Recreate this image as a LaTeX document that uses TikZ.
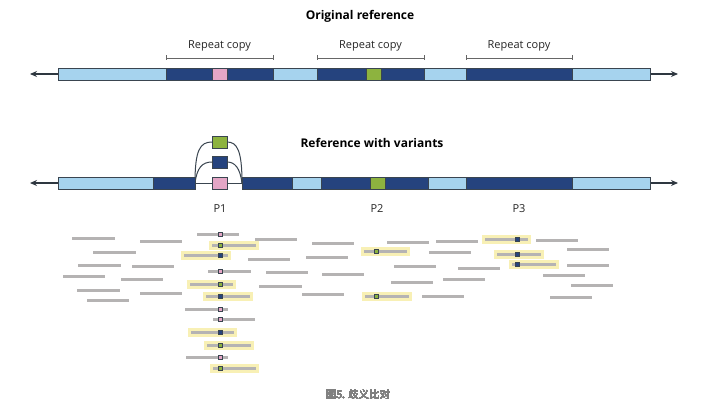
\documentclass[tikz,border=0pt]{standalone}
\usepackage{fontspec}
\setmainfont{Open Sans}
\newfontfamily\cjk{Noto Sans CJK SC}
\usetikzlibrary{arrows.meta}
\definecolor{lb}{HTML}{A6D3EE}
\definecolor{db}{HTML}{25437E}
\definecolor{pk}{HTML}{E4A6C6}
\definecolor{gr}{HTML}{8DB33F}
\definecolor{rd}{HTML}{B5B3B3}
\definecolor{hl}{HTML}{F8F0B5}
\definecolor{bd}{HTML}{3A4550}
\tikzset{seg/.style={draw=bd,line width=0.5pt},
 axis/.style={draw=bd!80!black,line width=1.2pt,-{Stealth[length=7pt,width=6pt]}},
 lbl/.style={font=\fontsize{11}{12}\selectfont,text=black!85},
 ttl/.style={font=\bfseries\fontsize{12}{13}\selectfont}}
\newcommand{\rread}[3]{\fill[rd] (#1,#3-1.5) rectangle (#2,#3+1.5);}
\newcommand{\vread}[5]{\fill[hl] (#1-3,#3-4.5) rectangle (#2+3,#3+4.5);\fill[rd] (#1,#3-1.5) rectangle (#2,#3+1.5);\filldraw[fill=#5,draw=bd,line width=0.3pt] (#4-2.2,#3-2.2) rectangle (#4+2.2,#3+2.2);}
\newcommand{\pread}[4]{\fill[rd] (#1,#3-1.5) rectangle (#2,#3+1.5);\filldraw[fill=#4,draw=bd,line width=0.3pt] (218,#3-2.2) rectangle (222,#3+2.2);}
\begin{document}
\begin{tikzpicture}[x=1pt,y=-1pt]
\useasboundingbox[fill=white] (0,0) rectangle (716,410);
\node[ttl] (t1) at (360,16) {Original reference};
% top bar
\coordinate (la) at (58,74); \coordinate (ra) at (650,74);
\coordinate (le) at (30,74); \coordinate (re) at (678,74);
\draw[axis] (la) -- (le); \draw[axis] (ra) -- (re);
\foreach \a/\b/\c in {58/166/lb,166/273/db,273/317/lb,317/424/db,424/466/lb,466/572/db,572/650/lb}
 \filldraw[seg,fill=\c] (\a,68) rectangle (\b,80);
\filldraw[seg,fill=pk] (212,68) rectangle (227,80);
\filldraw[seg,fill=gr] (366,68) rectangle (381,80);
\foreach \a/\b in {166/273,317/424,466/572}{
 \draw[black!60,line width=0.6pt] (\a,55) -- (\a,60) (\a,58) -- (\b,58) (\b,55) -- (\b,60);
 \node[lbl] at ({(\a+\b)/2},46) {Repeat copy};}
% second bar
\node[ttl] (t2) at (372,143) {Reference with variants};
\coordinate (lb2) at (58,183); \coordinate (rb2) at (650,183);
\coordinate (le2) at (30,183); \coordinate (re2) at (678,183);
\draw[axis] (lb2) -- (le2); \draw[axis] (rb2) -- (re2);
\draw[bd,line width=1pt] (195,183) -- (242,183);
\draw[bd,line width=1pt] (195,183) .. controls (195,150) and (200,142) .. (212,142);
\draw[bd,line width=1pt] (242,183) .. controls (242,150) and (237,142) .. (227,142);
\draw[bd,line width=1pt] (195,183) .. controls (197,168) and (202,162) .. (212,162);
\draw[bd,line width=1pt] (242,183) .. controls (240,168) and (235,162) .. (227,162);
\foreach \a/\b/\c in {58/153/lb,153/195/db,242/292/db,292/321/lb,321/428/db,428/466/lb,466/572/db,572/650/lb}
 \filldraw[seg,fill=\c] (\a,177) rectangle (\b,189);
\filldraw[seg,fill=pk] (212,177) rectangle (227,189);
\filldraw[seg,fill=db] (212,156) rectangle (227,168);
\filldraw[seg,fill=gr] (212,136) rectangle (227,148);
\filldraw[seg,fill=gr] (370,177) rectangle (385,189);
\node[lbl] (p1) at (220,209) {P1};
\node[lbl] (p2) at (377,209) {P2};
\node[lbl] (p3) at (519,209) {P3};
% reads
\foreach \a/\b/\y in {72/115/238,140/182/241,93/136/252,78/121/265,132/174/266,63/105/276,121/163/279,77/120/290,140/182/293,87/129/300,255/297/239,312/354/243,248/290/259,306/348/257,266/308/272,322/364/274,259/302/286,302/344/294,387/429/242,436/478/241,536/578/240,429/471/252,567/609/249,394/436/266,458/500/268,567/609/265,443/485/279,391/433/282,543/585/275,571/613/285,422/464/296,550/592/297}
 \rread{\a}{\b}{\y}
\vread{212}{256}{245}{220}{gr}
\vread{184}{228}{255}{220}{db}
\vread{190}{233}{284}{220}{gr}
\vread{206}{250}{296}{220}{db}
\vread{191}{234}{332}{220}{db}
\vread{207}{251}{345}{220}{gr}
\vread{213}{256}{368}{220}{gr}
\pread{197}{239}{234}{pk}
\pread{208}{251}{271}{pk}
\pread{185}{228}{309}{pk}
\pread{213}{255}{319}{pk}
\pread{186}{228}{357}{pk}
\vread{485}{528}{239}{517}{db}
\vread{497}{541}{254}{517}{db}
\vread{512}{556}{264}{517}{db}
\vread{364}{407}{251}{376}{gr}
\vread{365}{409}{296}{376}{gr}
\node[text=black!50] (cap) at (358,394) {\cjk\fontsize{10.5}{12}\selectfont 图5. 歧义比对};
\end{tikzpicture}
\end{document}
